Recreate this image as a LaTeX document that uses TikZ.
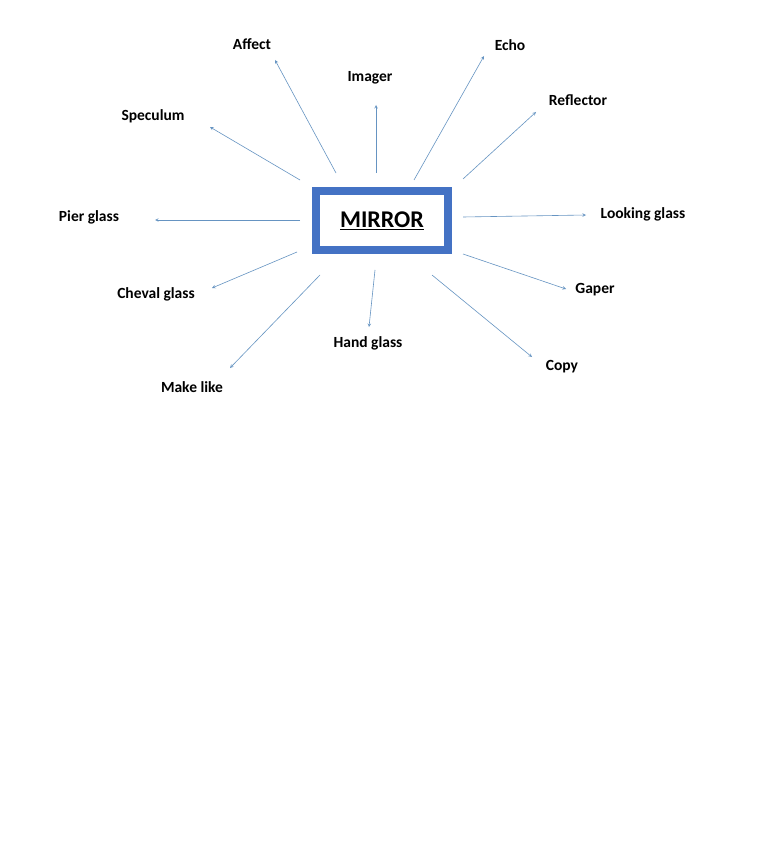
\documentclass[tikz,border=0pt]{standalone}
\usepackage{fontspec}
\setmainfont{Carlito}
\begin{document}
\begin{tikzpicture}[x=1pt,y=-1pt,
  lbl/.style={font=\bfseries\fontsize{15.5}{18}\selectfont,inner sep=0pt},
  arr/.style={draw=blue!50!cyan!60!black!60,line width=0.6pt,-stealth}]
\useasboundingbox (0,0) rectangle (768,866);
\fill[white] (0,0) rectangle (768,866);
\node[draw={rgb,255:red,68;green,114;blue,196},line width=8pt,fill=white,minimum width=132pt,minimum height=59pt,font=\bfseries\fontsize{24}{28}\selectfont] (m) at (382,220.5) {\underline{MIRROR}};
\node[lbl] (affect) at (252,44) {Affect};
\node[lbl] (imager) at (370,78) {Imager};
\node[lbl] (echo) at (510,45) {Echo};
\node[lbl] (refl) at (578,100) {Reflector};
\node[lbl] (spec) at (153,116) {Speculum};
\node[lbl] (pier) at (89,217) {Pier glass};
\node[lbl] (look) at (643,214) {Looking glass};
\node[lbl] (chev) at (156,294) {Cheval glass};
\node[lbl] (gaper) at (595,290) {Gaper};
\node[lbl] (make) at (192,387) {Make like};
\node[lbl] (hand) at (368,343) {Hand glass};
\node[lbl] (copy) at (562,367) {Copy};
\foreach \n/\a/\b/\c/\d in {a/336/173/275/60, b/376/173/376/105, c/414/180/484/56, d/463/179/536/112, e/300/180/210/127, f/300/220/155/220, g/463/217/586/215, h/297/252/212/288, i/463/254/566/289, j/320/275/230/368, k/375/270/369/327, l/432/275/532/357}{
  \coordinate (s\n) at (\a,\b); \coordinate (t\n) at (\c,\d);
  \draw[arr] (s\n) -- (t\n);
}
\end{tikzpicture}
\end{document}
